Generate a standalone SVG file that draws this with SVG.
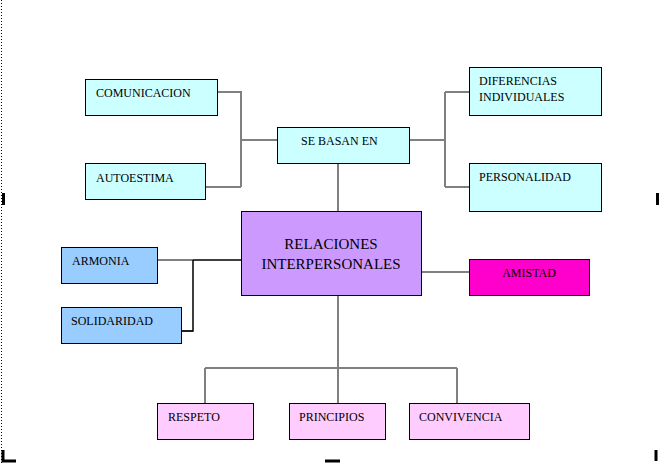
<svg xmlns="http://www.w3.org/2000/svg" width="659" height="463" viewBox="0 0 659 463">
<style>
.b{stroke:#000;stroke-width:1}
.t{font-family:"Liberation Serif",serif;font-size:12px;fill:#000}
.c{fill:none;stroke:#808080;stroke-width:2}
.k{fill:none;stroke:#000;stroke-width:1.5}
</style>
<rect width="659" height="463" fill="#fff"/>
<g id="frame">
<line x1="1.5" y1="0" x2="1.5" y2="463" stroke="#000" stroke-width="1" stroke-dasharray="1,2"/>
<rect x="2" y="193" width="3" height="12" fill="#000"/>
<rect x="656" y="193" width="3" height="12" fill="#000"/>
<path d="M3,450V461H16M325,461H340M656,450V461" fill="none" stroke="#000" stroke-width="3"/>
</g>
<g id="connectors">
<path class="c" d="M217,92H241M205,187H241M241,91V187M241,140H277"/>
<path class="c" d="M409,140H445M445,92V187M445,92H469M445,187H469"/>
<path class="c" d="M338,163V211"/>
<path class="c" d="M157,260H193M181,331H193"/>
<path class="k" d="M193,260H241M193,260V331H181"/>
<path class="c" d="M421,272H469"/>
<path class="c" d="M338,295V403M205,368H457M205,368V403M457,368V403"/>
</g>
<g id="comunicacion"><rect class="b" x="85.5" y="79.5" width="132" height="36" fill="#ccffff"/><text class="t" x="96" y="97">COMUNICACION</text></g>
<g id="autoestima"><rect class="b" x="85.5" y="163.5" width="120" height="36" fill="#ccffff"/><text class="t" x="96" y="182">AUTOESTIMA</text></g>
<g id="sebasan"><rect class="b" x="277.5" y="127.5" width="132" height="36" fill="#ccffff"/><text class="t" x="301" y="145">SE BASAN EN</text></g>
<g id="diferencias"><rect class="b" x="469.5" y="67.5" width="132" height="48" fill="#ccffff"/><text class="t" x="479" y="85">DIFERENCIAS</text><text class="t" x="479" y="101">INDIVIDUALES</text></g>
<g id="personalidad"><rect class="b" x="469.5" y="163.5" width="132" height="48" fill="#ccffff"/><text class="t" x="479" y="181">PERSONALIDAD</text></g>
<g id="relaciones"><rect class="b" x="241.5" y="211.5" width="180" height="84" fill="#cc99ff"/><text class="t" x="331" y="249" text-anchor="middle" style="font-size:15px">RELACIONES</text><text class="t" x="331" y="269" text-anchor="middle" style="font-size:15px">INTERPERSONALES</text></g>
<g id="armonia"><rect class="b" x="61.5" y="247.5" width="96" height="36" fill="#99ccff"/><text class="t" x="72" y="265">ARMONIA</text></g>
<g id="solidaridad"><rect class="b" x="61.5" y="307.5" width="120" height="36" fill="#99ccff"/><text class="t" x="71" y="325">SOLIDARIDAD</text></g>
<g id="amistad"><rect class="b" x="469.5" y="259.5" width="120" height="36" fill="#ff00cc"/><text class="t" x="529" y="277" text-anchor="middle">AMISTAD</text></g>
<g id="respeto"><rect class="b" x="157.5" y="403.5" width="96" height="36" fill="#ffccff"/><text class="t" x="168" y="421">RESPETO</text></g>
<g id="principios"><rect class="b" x="289.5" y="403.5" width="96" height="36" fill="#ffccff"/><text class="t" x="299" y="421">PRINCIPIOS</text></g>
<g id="convivencia"><rect class="b" x="409.5" y="403.5" width="120" height="36" fill="#ffccff"/><text class="t" x="419" y="421">CONVIVENCIA</text></g>
</svg>
